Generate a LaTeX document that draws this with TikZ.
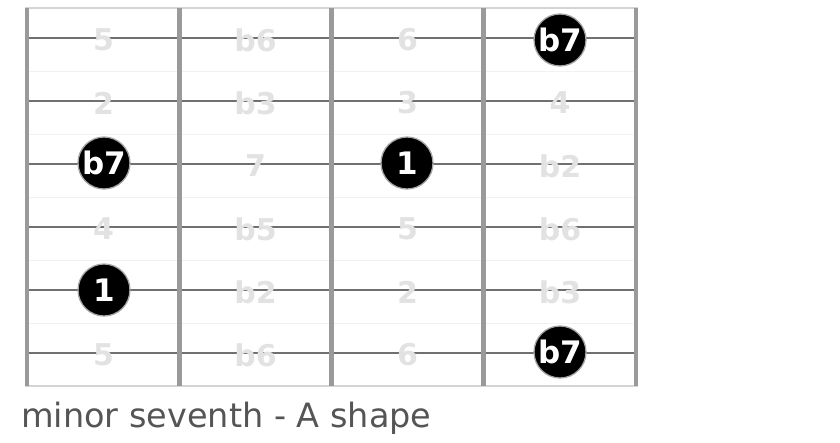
\documentclass[tikz,border=0pt]{standalone}
\usepackage{fontspec}
\setmainfont{DejaVu Sans}
\definecolor{fretGray}{HTML}{9A9A9A}
\definecolor{stringGray}{HTML}{707070}
\definecolor{edgeGray}{HTML}{D4D4D4}
\definecolor{cellGray}{HTML}{F2F2F2}
\definecolor{degGray}{HTML}{E2E2E2}
\definecolor{captionGray}{HTML}{555555}
\begin{document}
\begin{tikzpicture}[x=1pt,y=-1pt,
		fretLine/.style={draw=fretGray, line width=4.8pt},
		stringLine/.style={draw=stringGray, line width=1.6pt},
		cellLine/.style={draw=cellGray, line width=1pt},
		edgeLine/.style={draw=edgeGray, line width=2pt},
		degLabel/.style={text=degGray, inner sep=0pt, font=\fontsize{30}{30}\selectfont\bfseries},
		noteDot/.style={circle, fill=black, draw=gray!70, line width=1.3pt, minimum size=52pt, inner sep=0pt, text=white, font=\fontsize{31}{31}\selectfont\bfseries}]
	\useasboundingbox (0,0) rectangle (840,442);

	% faint cell borders
	\foreach \y in {71,134,197,260,323}
		\draw[cellLine] (25,\y) -- (638,\y);
	\draw[edgeLine] (25,8) -- (638,8);
	\draw[edgeLine] (25,386) -- (638,386);

	% strings
	\foreach \y in {38,101,164,227,290,353}
		\draw[stringLine] (25,\y) -- (638,\y);

	% frets
	\foreach \x in {27,179.25,331.5,483.75,636}
		\draw[fretLine] (\x,8) -- (\x,386);

	% scale degrees
	\node[degLabel](s1f1) at (103.5,40){5};
	\node[degLabel](s1f2) at (255.5,40){b6};
	\node[degLabel](s1f3) at (407.5,40){6};

	\node[degLabel](s2f1) at (103.5,103){2};
	\node[degLabel](s2f2) at (255.5,103){b3};
	\node[degLabel](s2f3) at (407.5,103){3};
	\node[degLabel](s2f4) at (560,103){4};

	\node[degLabel](s3f2) at (255.5,166){7};
	\node[degLabel](s3f4) at (560,166){b2};

	\node[degLabel](s4f1) at (103.5,229){4};
	\node[degLabel](s4f2) at (255.5,229){b5};
	\node[degLabel](s4f3) at (407.5,229){5};
	\node[degLabel](s4f4) at (560,229){b6};

	\node[degLabel](s5f2) at (255.5,292){b2};
	\node[degLabel](s5f3) at (407.5,292){2};
	\node[degLabel](s5f4) at (560,292){b3};

	\node[degLabel](s6f1) at (103.5,355){5};
	\node[degLabel](s6f2) at (255.5,355){b6};
	\node[degLabel](s6f3) at (407.5,355){6};

	% chord tones
	\node[noteDot](dotTop) at (560,40){b7};
	\node[noteDot](dotMid) at (104,163){b7};
	\node[noteDot](rootMid) at (407,163){1};
	\node[noteDot](rootLow) at (104,290){1};
	\node[noteDot](dotLow) at (560,352){b7};

	\node[anchor=base west, inner sep=0pt, text=captionGray, font=\fontsize{33.5}{33.5}\selectfont](caption) at (21,427){minor seventh - A shape};
\end{tikzpicture}
\end{document}
